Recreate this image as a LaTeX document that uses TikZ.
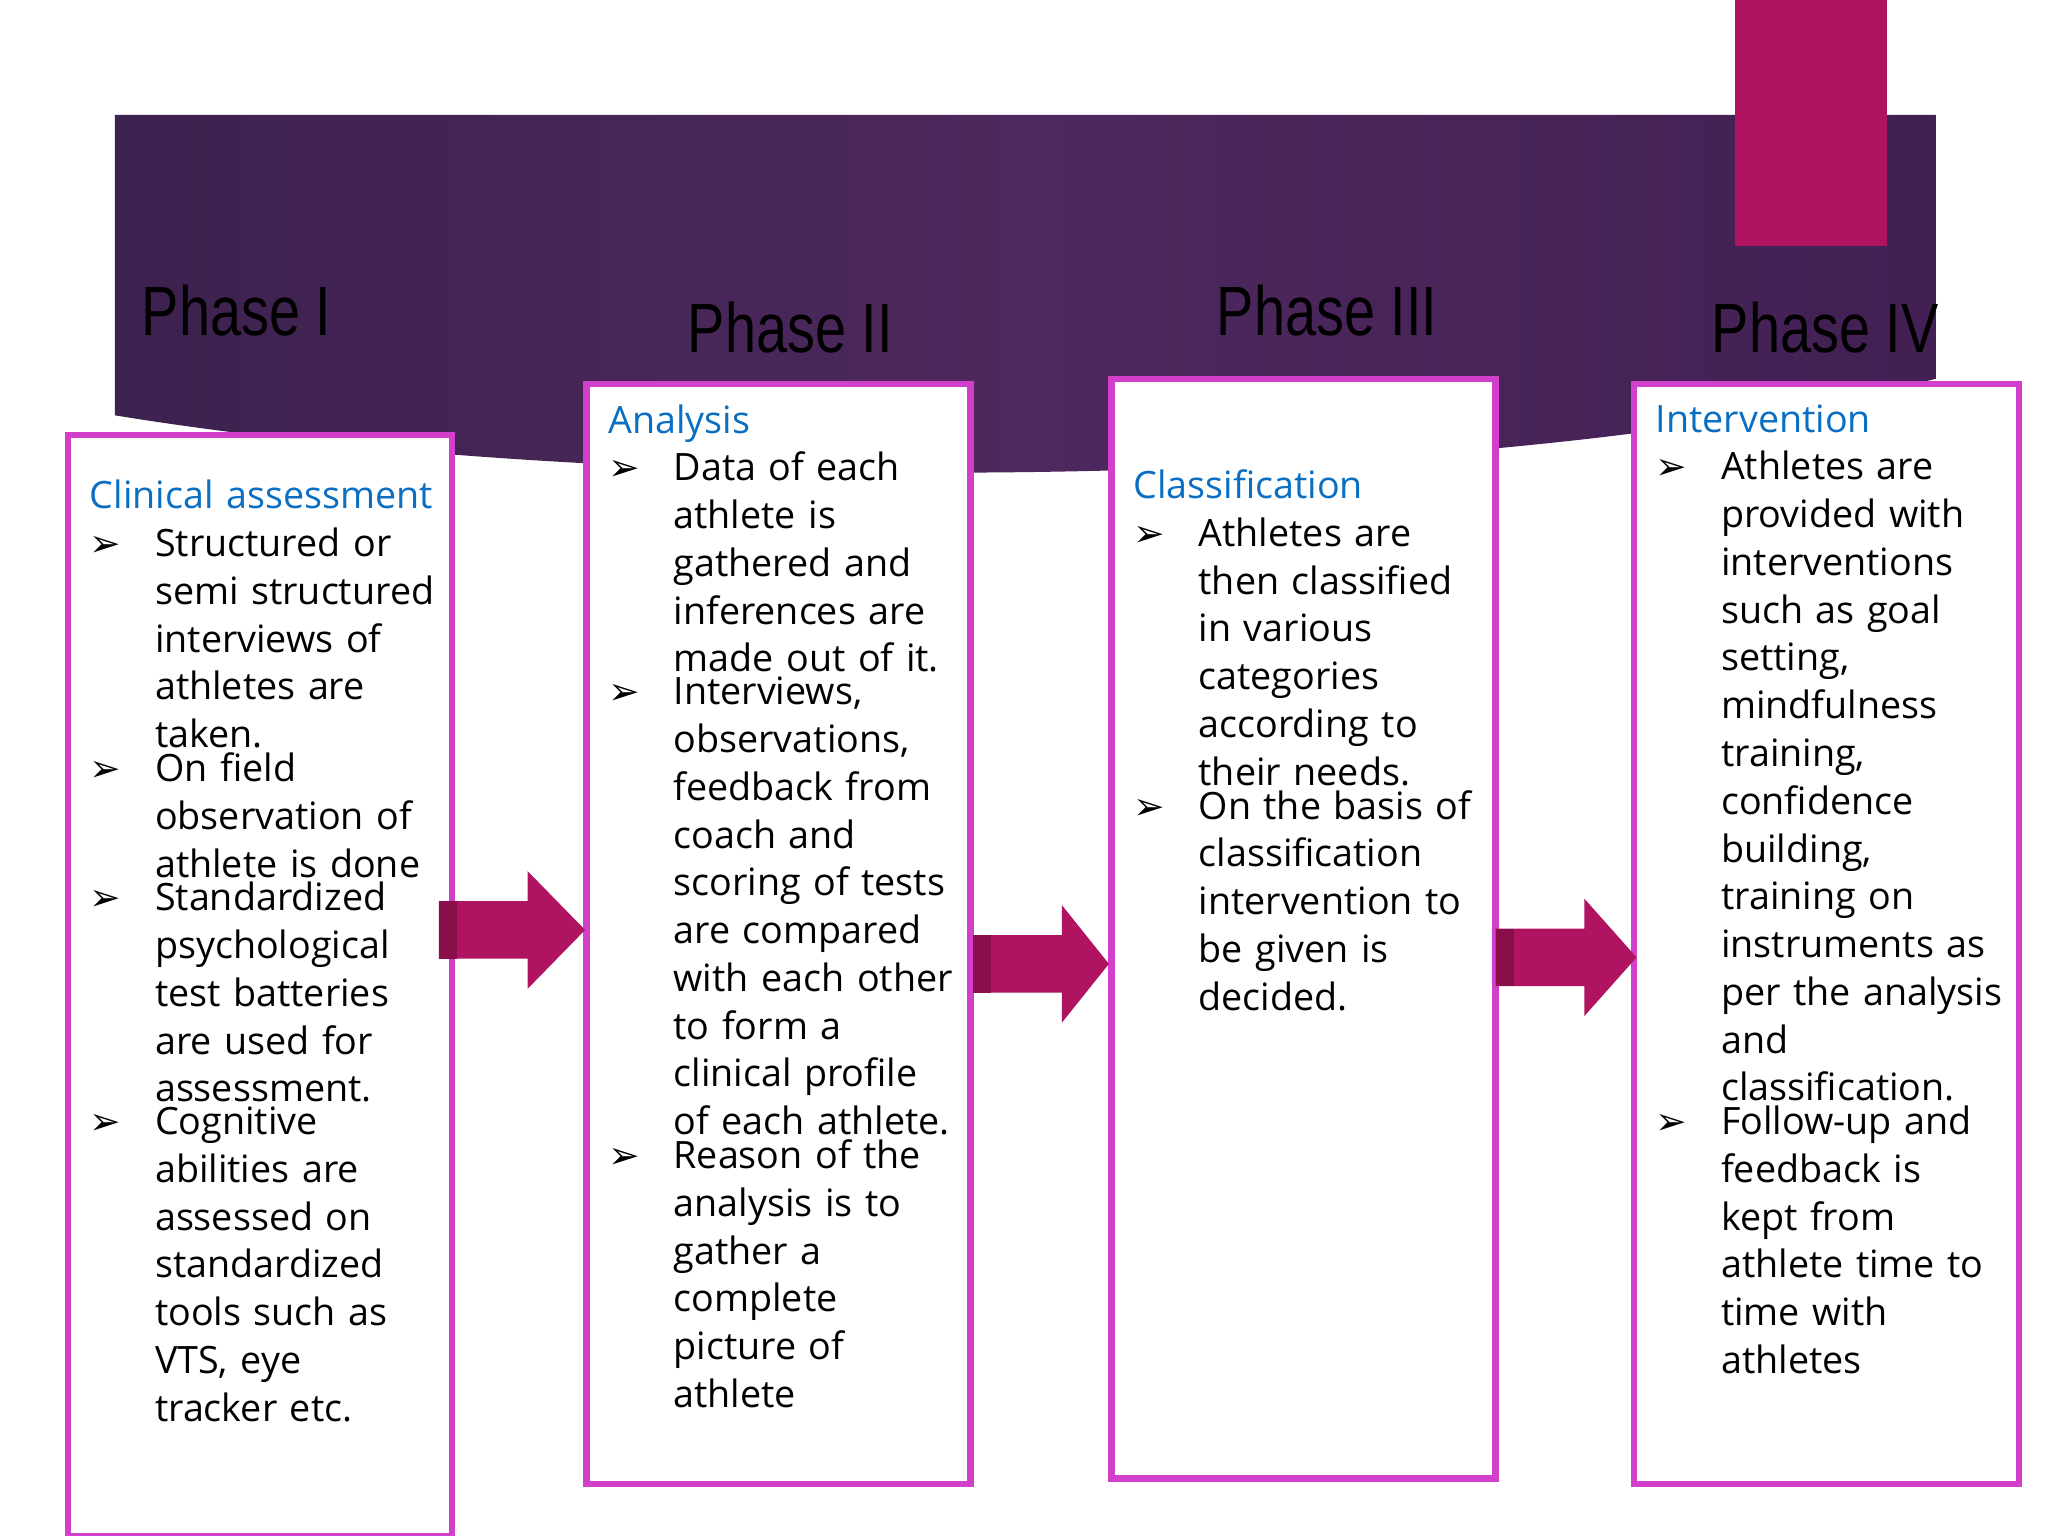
\documentclass[tikz,border=0pt]{standalone}
\usepackage{fontspec}
\setmainfont{Open Sans}
\newfontfamily\phasefont{Liberation Sans}[FakeStretch=0.8]
\newfontfamily\dingb{DejaVu Sans}
\usetikzlibrary{calc}
\definecolor{boxline}{HTML}{D23FCB}
\definecolor{headblue}{HTML}{0A6FC2}
\definecolor{arrowfill}{HTML}{B0135F}
\definecolor{arrowdark}{HTML}{8A0E4A}
\definecolor{banleft}{RGB}{60,34,78}
\definecolor{banmid}{RGB}{78,40,94}
\definecolor{banright}{RGB}{66,32,84}
\newcommand{\bpt}[1]{\par\noindent\makebox[0.5cm][l]{\dingb ➢}\parbox[t]{2.4cm}{\raggedright #1}}
\newcommand{\blockarrow}[2]{%
  \fill[arrowfill] ($(#1)+(0,-22)$) -- ($(#1)+(68,-22)$) -- ($(#1)+(68,-45)$) -- (#2)
    -- ($(#1)+(68,45)$) -- ($(#1)+(68,22)$) -- ($(#1)+(0,22)$) -- cycle;
  \fill[arrowdark] ($(#1)+(0,-22)$) rectangle ($(#1)+(14,22)$);}
\begin{document}
\begin{tikzpicture}[x=0.01cm,y=-0.01cm,
    box/.style={draw=boxline,line width=1.4pt,fill=white},
    phase/.style={font=\phasefont\fontsize{15.2}{17}\selectfont,anchor=west,inner sep=0pt},
    txt/.style={anchor=north west,text width=2.9cm,align=left,inner sep=0pt,
      font=\fontsize{8.2}{10.4}\selectfont}]
  \useasboundingbox (0,0) rectangle (1568,1176);
  % banner
  \shade[left color=banleft,right color=banright,middle color=banmid]
    (88,88) -- (1482,88) -- (1482,290) .. controls (1150,375) and (500,385) .. (88,318) -- cycle;
  \fill[arrowfill] (1328,0) rectangle (1445,188);
  \node[phase] (p1) at (108,238) {Phase I};
  \node[phase] (p2) at (526,251) {Phase II};
  \node[phase] (p3) at (931,238) {Phase III};
  \node[phase] (p4) at (1310,251) {Phase IV};
  % boxes
  \draw[box] (52,333) rectangle (346,1176);
  \draw[box] (449,294) rectangle (743,1136);
  \draw[box] (851,290) rectangle (1145,1132);
  \draw[box] (1251,294) rectangle (1546,1136);
  \coordinate (a1) at (336,712); \coordinate (t1) at (448,712);
  \coordinate (a2) at (745,738); \coordinate (t2) at (849,738);
  \coordinate (a3) at (1145,733); \coordinate (t3) at (1253,733);
  \blockarrow{a1}{t1}
  \blockarrow{a2}{t2}
  \blockarrow{a3}{t3}
  % texts
  \node[txt] (b1) at (68,367) {{\color{headblue}Clinical assessment}
    \bpt{Structured or\\ semi structured\\ interviews of\\ athletes are\\ taken.}
    \bpt{On field\\ observation of\\ athlete is done}
    \bpt{Standardized\\ psychological\\ test batteries\\ are used for\\ assessment.}
    \bpt{Cognitive\\ abilities are\\ assessed on\\ standardized\\ tools such as\\ VTS, eye\\ tracker etc.}};
  \node[txt] (b2) at (465,309) {{\color{headblue}Analysis}
    \bpt{Data of each\\ athlete is\\ gathered and\\ inferences are\\ made out of it.}
    \bpt{Interviews,\\ observations,\\ feedback from\\ coach and\\ scoring of tests\\ are compared\\ with each other\\ to form a\\ clinical profile\\ of each athlete.}
    \bpt{Reason of the\\ analysis is to\\ gather a\\ complete\\ picture of\\ athlete}};
  \node[txt] (b3) at (867,359) {{\color{headblue}Classification}
    \bpt{Athletes are\\ then classified\\ in various\\ categories\\ according to\\ their needs.}
    \bpt{On the basis of\\ classification\\ intervention to\\ be given is\\ decided.}};
  \node[txt] (b4) at (1267,309) {{\color{headblue}Intervention}
    \bpt{Athletes are\\ provided with\\ interventions\\ such as goal\\ setting,\\ mindfulness\\ training,\\ confidence\\ building,\\ training on\\ instruments as\\ per the analysis\\ and\\ classification.}
    \bpt{Follow-up and\\ feedback is\\ kept from\\ athlete time to\\ time with\\ athletes}};
\end{tikzpicture}
\end{document}
